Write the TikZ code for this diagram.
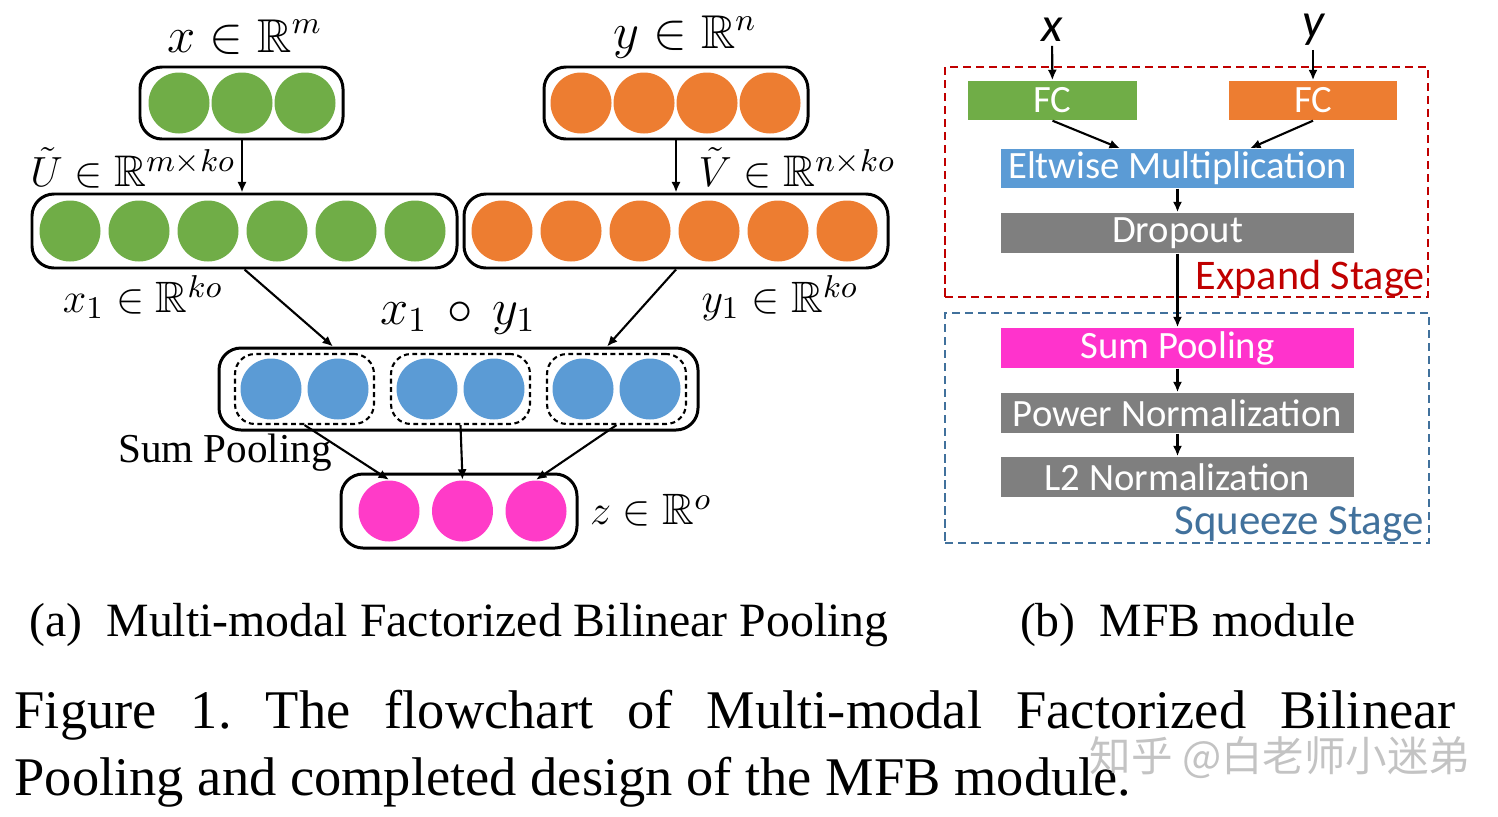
\documentclass[tikz,border=0pt]{standalone}
\usepackage{amssymb}
\usepackage{fontspec}
\usepackage{tikz}
\usetikzlibrary{positioning,shapes,arrows.meta,calc}

\newfontfamily\timesfont{Liberation Serif}
\newfontfamily\calibrifont{Carlito}
\newfontfamily\cjkfont{Noto Sans CJK SC}

\definecolor{cgreen}{HTML}{70AD47}
\definecolor{corange}{HTML}{ED7D31}
\definecolor{cblue}{HTML}{5B9BD5}
\definecolor{cpink}{HTML}{FF3BC8}
\definecolor{cgray}{HTML}{7F7F7F}
\definecolor{cmagenta}{HTML}{FF33CC}
\definecolor{stagered}{HTML}{C00000}
\definecolor{stageblue}{HTML}{41719C}

\tikzset{
  unit/.style={circle, minimum size=6.1mm, inner sep=0pt},
  vecbox/.style={draw, line width=0.85pt, rounded corners=2.2mm, inner sep=0pt},
  poolbox/.style={draw, dash pattern=on 1.4pt off 1pt, line width=0.6pt, rounded corners=2mm, inner sep=0pt},
  layer/.style={minimum width=35.3mm, minimum height=4mm, inner sep=0pt, text=white,
    font=\calibrifont\fontsize{11}{13}\selectfont},
  stagebox/.style={dash pattern=on 2.3pt off 1.4pt, line width=0.75pt, inner sep=0pt},
  mathlbl/.style={font=\fontsize{13.5}{16}\selectfont, inner sep=0pt},
  smalllbl/.style={font=\fontsize{12.5}{15}\selectfont, inner sep=0pt},
  arr/.style={-{Latex[length=3pt,width=2.6pt]}, line width=0.6pt},
}

\begin{document}
\begin{tikzpicture}[x=0.1mm, y=-0.1mm]
    \useasboundingbox (0,0) rectangle (1498,816);

    % (a) input vectors
    \node[vecbox, minimum width=20.3mm, minimum height=7.2mm] (xin) at (241.5,103) {};
    \foreach \i in {0,1,2}
        \node[unit, fill=cgreen] (x\i) at (179+\i*63,103) {};
    \node[vecbox, minimum width=26.4mm, minimum height=7.2mm] (yin) at (676,103) {};
    \foreach \i in {0,...,3}
        \node[unit, fill=corange] (y\i) at (581+\i*63,103) {};

    \node[mathlbl] (xlbl) at (245,37) {$x \in \mathbb{R}^m$};
    \node[mathlbl] (ylbl) at (685,37) {$y \in \mathbb{R}^n$};

    % projected vectors
    \node[vecbox, minimum width=42.5mm, minimum height=7.4mm] (xbig) at (244.5,231) {};
    \foreach \i in {0,...,5}
        \node[unit, fill=cgreen] (u\i) at (70+\i*69,231) {};
    \node[vecbox, minimum width=42.4mm, minimum height=7.4mm] (ybig) at (676,231) {};
    \foreach \i in {0,...,5}
        \node[unit, fill=corange] (v\i) at (502+\i*69,231) {};

    \node[font=\fontsize{12.6}{15}\selectfont, inner sep=0pt] (ulbl) at (133,168) {$\tilde{U} \in \mathbb{R}^{m\times ko}$};
    \node[font=\fontsize{12.6}{15}\selectfont, inner sep=0pt] (vlbl) at (797,168) {$\tilde{V} \in \mathbb{R}^{n\times ko}$};
    \node[smalllbl] (x1lbl) at (143,297) {$x_1 \in \mathbb{R}^{ko}$};
    \node[smalllbl] (y1lbl) at (780,298) {$y_1 \in \mathbb{R}^{ko}$};

    % product and pooling groups
    \node[vecbox, minimum width=47.9mm, minimum height=8.2mm] (prod) at (458.5,389) {};
    \foreach \j in {0,1,2} {
        \node[poolbox, minimum width=13.9mm, minimum height=7mm] (g\j) at (304.5+\j*156,389) {};
        \node[unit, fill=cblue] (pa\j) at (271+\j*156,389) {};
        \node[unit, fill=cblue] (pb\j) at (338+\j*156,389) {};
    }
    \node[font=\fontsize{14.2}{17}\selectfont, inner sep=0pt] (prodlbl) at (458,318) {$x_1 \,\circ\, y_1$};

    % output
    \node[vecbox, minimum width=23.6mm, minimum height=7.4mm] (zout) at (459,511) {};
    \foreach \i in {0,1,2}
        \node[unit, fill=cpink] (z\i) at (389+\i*73.5,511) {};
    \node[smalllbl] (zlbl) at (651,510) {$z \in \mathbb{R}^o$};
    \node[font=\timesfont\fontsize{11.7}{14}\selectfont, inner sep=0pt] (spool) at (225,453) {Sum Pooling};

    \draw[arr] (xin.south -| x1) -- (xbig.north -| x1);
    \draw[arr] (yin.south) -- (ybig.north);
    \draw[arr] (xbig.south) -- ([xshift=-0.5mm]prod.north -| pb0);
    \draw[arr] (ybig.south) -- ([xshift=2.4mm]prod.north -| pa2);
    \foreach \j in {0,1,2}
        \draw[arr] (g\j.south) -- (z\j.north);

    % (b) MFB module
    \node[font=\calibrifont\itshape\fontsize{14}{16}\selectfont, inner sep=1pt] (inx) at (1052,30) {x};
    \node[font=\calibrifont\itshape\fontsize{14}{16}\selectfont, inner sep=1pt] (iny) at (1313,30) {y};

    \node[stagebox, draw=stagered, minimum width=48.3mm, minimum height=23mm] (expand) at (1186.5,182) {};
    \node[stagebox, draw=stageblue, minimum width=48.4mm, minimum height=23mm] (squeeze) at (1187,428) {};

    \node[layer, fill=cgreen, minimum width=16.9mm, minimum height=3.9mm] (fcx) at (1052.5,100.5) {FC};
    \node[layer, fill=corange, minimum width=16.8mm, minimum height=3.9mm] (fcy) at (1313,100.5) {FC};
    \node[layer, fill=cblue, minimum height=3.9mm] (elt) at (1177.5,168.5) {Eltwise Multiplication};
    \node[layer, fill=cgray] (drop) at (1177.5,233) {Dropout};
    \node[layer, fill=cmagenta] (sump) at (1177.5,348) {Sum Pooling};
    \node[layer, fill=cgray] (pown) at (1177.5,413) {Power Normalization};
    \node[layer, fill=cgray] (l2n) at (1177.5,477) {L2 Normalization};

    \node[anchor=base east, inner sep=0pt, text=stagered, font=\calibrifont\fontsize{12}{14}\selectfont]
        (expandlbl) at ([xshift=-0.4mm,yshift=0.9mm]expand.south east) {Expand Stage};
    \node[anchor=base east, inner sep=0pt, text=stageblue, font=\calibrifont\fontsize{12.2}{14}\selectfont]
        (squeezelbl) at ([xshift=-0.6mm,yshift=1mm]squeeze.south east) {Squeeze Stage};

    \draw[arr] (inx) -- (fcx);
    \draw[arr] (iny) -- (fcy);
    \draw[arr] (fcx.south) -- ([xshift=-5.75mm]elt.north);
    \draw[arr] (fcy.south) -- ([xshift=7.25mm]elt.north);
    \draw[arr] (elt) -- (drop);
    \draw[arr] (drop) -- (sump);
    \draw[arr] (sump) -- (pown);
    \draw[arr] (pown) -- (l2n);

    % captions
    \node[font=\timesfont\fontsize{13.6}{16}\selectfont, inner sep=0pt] (capa) at (459,625)
        {(a)\ \ Multi-modal Factorized Bilinear Pooling};
    \node[font=\timesfont\fontsize{13.6}{16}\selectfont, inner sep=0pt] (capb) at (1188,625)
        {(b)\ \ MFB module};
    \node[anchor=base west, inner sep=0pt, font=\timesfont\fontsize{15.5}{19}\selectfont] (cap1) at (14,728)
        {\makebox[144.1mm][s]{Figure 1.\ The flowchart of Multi-modal Factorized Bilinear}};
    \node[anchor=base west, inner sep=0pt, font=\timesfont\fontsize{15.5}{19}\selectfont] (cap2) at (14,795)
        {Pooling and completed design of the MFB module.};
    \node[font=\cjkfont\fontsize{11.8}{14}\selectfont, text=black!28, opacity=0.85, inner sep=0pt] (mark) at (1280,758)
        {知乎 @白老师小迷弟};
\end{tikzpicture}
\end{document}
